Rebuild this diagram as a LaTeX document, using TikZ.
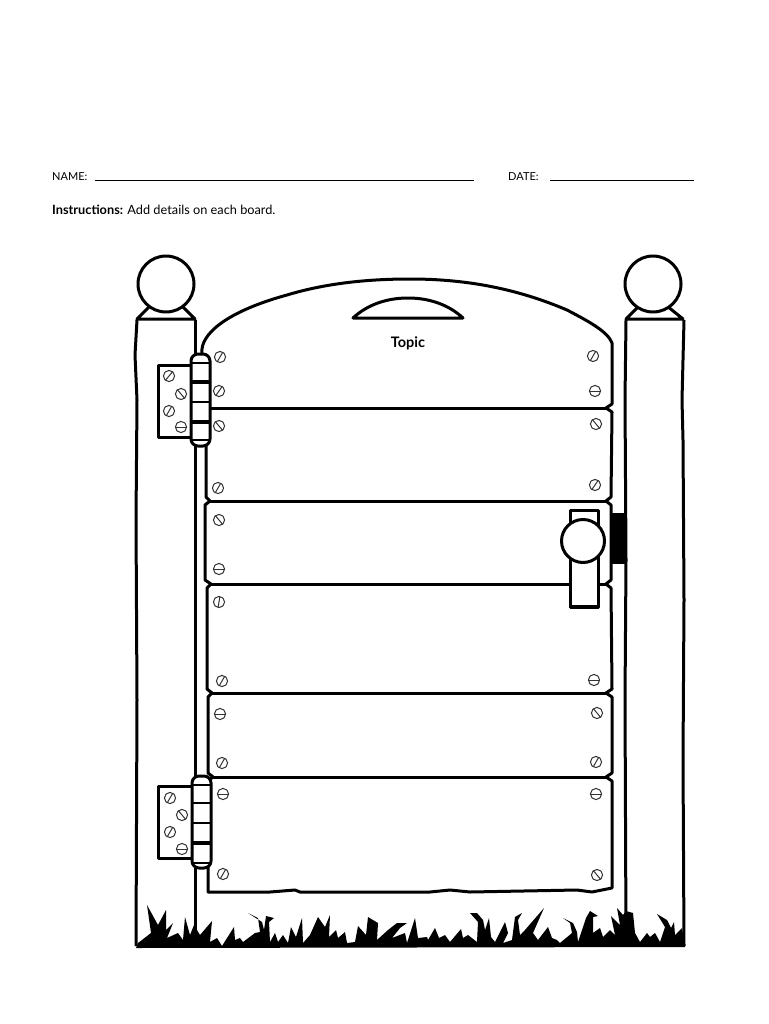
\documentclass[tikz,border=0pt]{standalone}
\usepackage{fontspec}
\setmainfont{Lato}
\tikzset{
	outline/.style={line width=3pt, line join=round},
	thinline/.style={line width=1.1pt},
	screwhead/.style={line width=1pt, draw=black!80, fill=white},
	formtext/.style={anchor=base west, inner sep=0pt, font=\fontsize{11}{13}\selectfont},
}
\begin{document}
\begin{tikzpicture}[x=1pt, y=-1pt]
	\useasboundingbox[fill=white] (0,0) rectangle (768,1024);
	% form header
	\node[formtext] (namelabel) at (52,181) {NAME:};
	\node[formtext] (datelabel) at (508,181) {DATE:};
	\node[formtext, font=\fontsize{12.75}{14}\selectfont] (instructions) at (52,214.5) {\textbf{Instructions:} Add details on each board.};
	\draw[thinline] (95,180.5)--(474,180.5);
	\draw[thinline] (550,180.5)--(694,180.5);
	% posts
	\draw[outline] (137,320)--(135,355)--(137,400)--(136,520)--(137,700)--(136,946);
	\draw[outline] (195,320)--(195,940);
	\draw[outline] (626,320)--(625,400)--(626,560)--(625,700)--(626,940);
	\draw[outline] (684,320)--(682,400)--(683,440)--(684,600)--(683,760)--(684,946);
	\draw[outline, fill=white] (137,319)--(150,306)--(182,306)--(195,319)--cycle;
	\draw[outline, fill=white] (626,319)--(639,306)--(667,306)--(683,319)--cycle;
	\draw[outline, fill=white] (166,284) circle (28);
	\draw[outline, fill=white] (653,284) circle (28);
	% gate boards
	\draw[outline, fill=white] (202,353) .. controls (200,335) and (225,312) .. (287,295)
		.. controls (320,285) and (360,279) .. (410,279)
		.. controls (470,279) and (520,290) .. (567,310)
		.. controls (590,322) and (608,332) .. (612,343)
		--(612,404)--(606,408)--(612,412)--(611,497)--(606,501)--(611,505)
		--(611,580)--(606,584)--(611,588)--(612,689)--(606,693)--(612,697)
		--(612,773)--(606,777)--(612,781)--(612,888)--(592,892)--(577,890)--(470,892)
		--(450,890)--(430,892)--(300,892)--(295,890)--(270,892)--(208,892)
		--(208,781)--(213,777)--(208,773)--(208,697)--(212,693)--(207,689)
		--(207,588)--(211,584)--(205,580)--(205,505)--(210,501)--(206,497)--(206,412)--(210,408)--(203,400)--cycle;
	\draw[outline] (206,408)--(606,408);
	\draw[outline] (210,501)--(606,501);
	\draw[outline] (211,584)--(606,584);
	\draw[outline] (212,693)--(606,693);
	\draw[outline] (213,777)--(606,777);
	\draw[outline] (353,318) .. controls (368,304) and (388,298) .. (408,298)
		.. controls (428,298) and (448,304) .. (463,318)--cycle;
	\node[font=\fontsize{14.5}{16}\selectfont\bfseries, inner sep=0pt] (topic) at (408,343) {Topic};
	% top hinge
	\draw[outline, fill=white] (191,365)--(158,365)--(158,437)--(191,437);
	\draw[outline, fill=white, rounded corners=7pt] (191,354) rectangle (210,446);
	\draw[line width=1.8pt] (191,363)--(210,363);
	\draw[line width=3.4pt] (191,382)--(210,382);
	\draw[line width=2.4pt] (191,402)--(210,402);
	\draw[line width=3.4pt] (191,422)--(210,422);
	\draw[line width=1.8pt] (191,440)--(210,440);
	% bottom hinge
	\draw[outline, fill=white] (192,786)--(158,786)--(158,858)--(192,858);
	\draw[outline, fill=white, rounded corners=7pt] (192,776) rectangle (211,868);
	\draw[line width=1.8pt] (192,785)--(211,785);
	\draw[line width=2.4pt] (192,803)--(211,803);
	\draw[line width=2.4pt] (192,823)--(211,823);
	\draw[line width=3.4pt] (192,843)--(211,843);
	\draw[line width=1.8pt] (192,863)--(211,863);
	% latch
	\fill[black] (611,513) rectangle (626,564);
	\draw[outline, fill=white] (570,510) rectangle (598,607);
	\draw[line width=3.6pt] (569,606.5)--(599,606.5);
	\draw[outline, fill=white] (583,541) circle (21.5);
	% screws
	\foreach \x/\y/\a in {169/376/50, 181/394/130, 169/411/60, 181/427/0,
		220/357/60, 219/391/55, 219/426/130, 218/488/60, 219/520/130, 219/569/0,
		219/602/80, 222/681/60, 220/714/0, 222/763/60, 223/794/0, 223/874/60,
		593/356/60, 595/391/0, 596/424/130, 595/485/55, 594/680/0, 597/713/130,
		596/762/60, 596/794/0, 597/875/130,
		170/798/60, 182/815/130, 170/832/60, 182/849/0}
	{
		\draw[screwhead] (\x,\y) circle (5.6);
		\draw[line width=1pt, black!80] (\x,\y)++(-\a:5.6)--++(180-\a:11.2);
	}
	% grass
	\fill[black] (136,948)--(138,943)--(151,933)--(147,905)--(158,925)--(166,910)--(166,930)--(173,923)--(167,938)
		--(178,933)--(183,940)--(185,917)--(190,935)--(194,925)--(200,935)--(212,921)--(210,942)--(217,938)
		--(222,946)--(234,927)--(235,940)--(240,938)--(243,942)--(255,933)--(260,932)--(258,918)--(248,913)
		--(262,922)--(264,930)--(266,916)--(274,918)--(269,922)--(270,942)--(275,933)--(278,942)--(283,935)
		--(288,943)--(291,927)--(296,937)--(302,918)--(303,943)--(310,935)--(318,917)--(325,927)--(330,915)
		--(329,937)--(336,930)--(338,938)--(345,932)--(347,943)--(355,942)--(358,926)--(366,935)--(368,917)
		--(378,923)--(377,940)--(388,930)--(397,923)--(407,923)--(400,928)--(392,938)--(405,933)--(407,943)
		--(415,918)--(418,938)--(427,937)--(428,940)--(435,928)--(439,938)--(445,935)--(450,942)--(461,929)
		--(463,938)--(468,935)--(477,942)--(478,922)--(470,913)--(477,913)--(483,920)--(485,930)--(489,918)
		--(491,937)--(495,942)--(505,922)--(508,933)--(503,943)--(512,940)--(515,917)--(522,913)--(518,920)
		--(520,935)--(525,930)--(544,908)--(533,933)--(538,940)--(548,927)--(552,938)--(557,940)--(560,943)
		--(572,933)--(570,923)--(563,918)--(573,923)--(577,932)--(578,942)--(586,918)--(590,911)--(598,916)
		--(593,917)--(593,933)--(600,928)--(603,937)--(610,930)--(615,935)--(611,916)--(620,925)--(617,908)
		--(623,915)--(626,911)--(633,913)--(635,933)--(640,942)--(647,933)--(650,937)--(655,933)--(660,942)
		--(665,927)--(657,914)--(667,920)--(671,928)--(674,922)--(675,935)--(682,928)--(685,947)--cycle;
\end{tikzpicture}
\end{document}
